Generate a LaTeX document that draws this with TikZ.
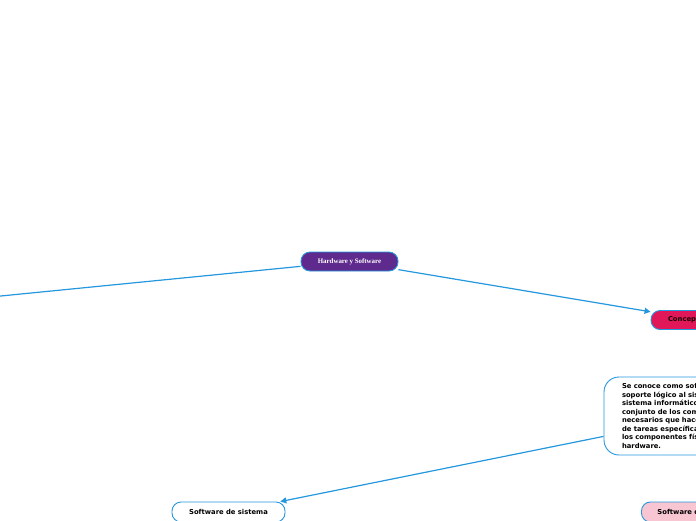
\documentclass[tikz,border=0pt]{standalone}
\usepackage{fontspec}
\setmainfont{DejaVu Sans}
\newfontfamily\titlefont{Liberation Serif}
\usepackage{tikz}
\usetikzlibrary{arrows.meta}

\definecolor{linkblue}{HTML}{2597DE}
\definecolor{rootpurple}{HTML}{5E2A8E}
\definecolor{mainred}{HTML}{E0185A}
\definecolor{subpink}{HTML}{F8C6D3}

\begin{document}
\begin{tikzpicture}[x=1pt,y=-1pt,
    topic/.style={draw=linkblue,line width=0.9pt,rounded corners=9pt,minimum height=20pt,
      inner sep=0pt,font=\fontsize{6.8}{7.5}\selectfont\bfseries},
    link/.style={draw=linkblue,line width=1.2pt,-{Triangle[length=6pt,width=6pt]}}]
  \useasboundingbox (0,0) rectangle (696,520);
  \clip (0,0) rectangle (696,520);
  % Mind map
  \node[topic,fill=rootpurple,text=white,minimum width=97pt,minimum height=19pt,
    font=\titlefont\fontsize{6.9}{7.5}\selectfont\bfseries] (HS) at (349.5,261.5) {Hardware y Software};
  \coordinate (L1) at (-60,302);
  \node[topic,fill=mainred,text=black!90!red,minimum width=98pt,minimum height=19pt,
    text width=64pt,align=left] (C) at (700,320) {Conceptos};
  \node[topic,fill=white,rounded corners=15pt,minimum width=202pt,minimum height=78pt,
    text width=166pt,align=left,font=\fontsize{6.8}{8.5}\selectfont\bfseries] (D) at (705,416)
    {Se conoce como software al\\
     soporte lógico al sistema\\
     sistema informático, el\\
     conjunto de los componentes\\
     necesarios que hacen posible\\
     de tareas específicas, como\\
     los componentes físicos del\\
     hardware.};
  \node[topic,fill=white,minimum width=113pt] (SS) at (228.5,512) {Software de sistema};
  \node[topic,fill=subpink,anchor=west,inner xsep=16pt] (SA) at (641,512) {Software de aplicación};

  \draw [linkblue,line width=1.2pt] (HS) to (L1);
  \draw [link] (HS) to (C);
  \draw [link] (D)  to (SS);
\end{tikzpicture}
\end{document}
